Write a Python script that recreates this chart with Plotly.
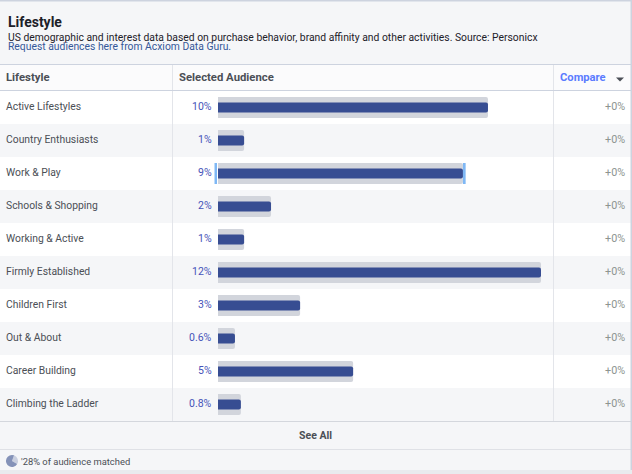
import plotly.graph_objects as go

W = 632
H = 474

segments = ["Active Lifestyles", "Country Enthusiasts", "Work & Play", "Schools & Shopping",
            "Working & Active", "Firmly Established", "Children First", "Out & About",
            "Career Building", "Climbing the Ladder"]
selected = [10.03, 0.97, 9.1, 1.97, 0.97, 12.0, 3.05, 0.63, 5.02, 0.85]
selected_labels = ["10%", "1%", "9%", "2%", "1%", "12%", "3%", "0.6%", "5%", "0.8%"]
compare_labels = ["+0%"] * 10
matched = [28, 72]

FONT = "Roboto"
GREY_TEXT = "#4b4f56"
LINE = "#cdd3df"
LIGHT_LINE = "#e3e5ea"
STRIPE = "#f5f6f8"


def px(x):
    return x / W


def py(y):
    return 1 - y / H


def text(x, y, s, size=10.35, color=GREY_TEXT, anchor="left"):
    return dict(x=px(x), y=py(y), xref="paper", yref="paper", text=s, showarrow=False,
                xanchor=anchor, yanchor="middle", borderpad=0, borderwidth=0,
                font=dict(family=FONT, size=size, color=color))


def row_text(x, seg, s, size, color, anchor):
    return dict(x=px(x), xref="paper", y=seg, yref="y", text=s, showarrow=False,
                xanchor=anchor, yshift=1, borderpad=0, borderwidth=0,
                font=dict(family=FONT, size=size, color=color))


def rect(x0, y0, x1, y1, color, layer="below"):
    return dict(type="rect", xref="paper", yref="paper", x0=px(x0), x1=px(x1),
                y0=py(y0), y1=py(y1), fillcolor=color, line_width=0, layer=layer)


fig = go.Figure()

# grey track behind, blue bar in front, same values
fig.add_trace(go.Bar(x=selected, y=segments, orientation="h", width=0.64,
                     marker=dict(color="#d2d5dc", cornerradius=2, line_width=0),
                     hoverinfo="skip"))
fig.add_trace(go.Bar(x=selected, y=segments, orientation="h", width=0.3,
                     marker=dict(color="#374d92", cornerradius=2, line_width=0),
                     hoverinfo="skip"))

# small pie icon in the footer
fig.add_trace(go.Pie(values=matched, sort=False, direction="clockwise", rotation=20,
                     domain=dict(x=[px(6), px(18)], y=[py(467), py(455)]),
                     marker=dict(colors=["#c9cfdf", "#8492b8"], line_width=0),
                     textinfo="none", showlegend=False, hoverinfo="skip"))

shapes = [
    rect(0, 0, W, 1.5, LINE),
    rect(0, 64, 631, 91, "#fbfbfc"),
    rect(0, 470, W, H, "#e9ebee"),
]
for i in range(len(segments)):
    top = 91 + 33 * i
    shapes.append(rect(0, top, 631, top + 33, "#ffffff" if i % 2 == 0 else STRIPE))

shapes += [
    rect(172, 64, 173, 421, LIGHT_LINE),
    rect(553, 64, 554, 421, LIGHT_LINE),
    rect(0, 64, 631, 65, LINE),
    rect(0, 90, 631, 91, LINE),
    rect(0, 421, 631, 422, "#d4d7dd"),
    rect(0, 449, 631, 450, "#dfe1e6"),
    rect(630.5, 0, 632, 470, LINE),
]

# selection handles on the Work & Play bar
handle = 2
shapes += [
    rect(214.5, 163, 217, 184, "#7fb8f5", layer="above"),
    dict(type="rect", xref="x", yref="paper", xsizemode="pixel", xanchor=selected[handle],
         x0=0, x1=2.7, y0=py(163), y1=py(184), fillcolor="#7fb8f5", line_width=0),
    dict(type="path", xref="paper", yref="paper",
         path=f"M {px(616)} {py(77.5)} L {px(624)} {py(77.5)} L {px(620)} {py(81.5)} Z",
         fillcolor="#4b4f56", line_width=0),
]

notes = [
    text(8, 22, "<b>Lifestyle</b>", size=14, color="#1d2129"),
    text(8, 37, "US demographic and interest data based on purchase behavior, brand affinity and other activities. Source: Personicx", color="#1d2129"),
    text(8, 46, "Request audiences here from Acxiom Data Guru.", color="#365899"),
    text(6, 77, "<b>Lifestyle</b>", size=11.3),
    text(179, 77, "<b>Selected Audience</b>", size=11.3),
    text(560, 77, "<b>Compare</b>", size=11.2, color="#5b7cff"),
    text(332, 435.5, "<b>See All</b>", size=10.5, anchor="right"),
    text(21, 461, "'28% of audience matched", size=9.4),
]
for seg, sel, comp in zip(segments, selected_labels, compare_labels):
    notes.append(row_text(6, seg, seg, 10.35, GREY_TEXT, "left"))
    notes.append(row_text(212, seg, sel, 10.5, "#4653b8", "right"))
    notes.append(row_text(625, seg, comp, 10.8, "#8d9490", "right"))

fig.update_layout(
    width=W, height=H, margin=dict(l=0, r=0, t=0, b=0), autosize=False,
    paper_bgcolor="#f5f6f8", plot_bgcolor="rgba(0,0,0,0)",
    barmode="overlay", showlegend=False,
    xaxis=dict(domain=[px(218), px(541)], range=[0, 12], visible=False, fixedrange=True),
    yaxis=dict(domain=[py(421), py(91)], categoryorder="array", categoryarray=segments,
               autorange="reversed", visible=False, fixedrange=True),
    shapes=shapes, annotations=notes,
)

fig.write_html("out.html", config={"displayModeBar": False},
               post_script="document.body.style.margin='0';")
